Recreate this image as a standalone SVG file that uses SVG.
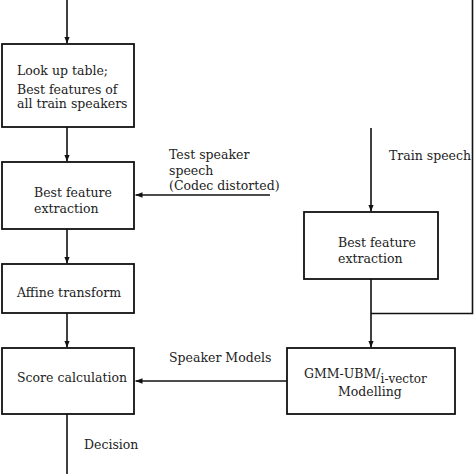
<svg xmlns="http://www.w3.org/2000/svg" width="474" height="474" viewBox="0 0 474 474">
<style>
.box{fill:#fff;stroke:#111;stroke-width:1.8}
.ln{fill:none;stroke:#111;stroke-width:1.6}
.t{font-family:'DejaVu Serif',serif;font-size:12.5px;fill:#222}
</style>
<defs>
<marker id="ah" viewBox="0 0 10 10" refX="10" refY="5" markerWidth="7" markerHeight="7" markerUnits="userSpaceOnUse" orient="auto">
<path d="M0,1 L10,5 L0,9 Z" fill="#111"/>
</marker>
</defs>
<rect width="474" height="474" fill="#fff"/>
<g id="connectors">
<line class="ln" x1="67" y1="0" x2="67" y2="43.5" marker-end="url(#ah)"/>
<line class="ln" x1="67" y1="127" x2="67" y2="161.5" marker-end="url(#ah)"/>
<line class="ln" x1="270" y1="195" x2="135.5" y2="195" marker-end="url(#ah)"/>
<line class="ln" x1="67" y1="229" x2="67" y2="263.5" marker-end="url(#ah)"/>
<line class="ln" x1="67" y1="313" x2="67" y2="347.5" marker-end="url(#ah)"/>
<line class="ln" x1="287" y1="381" x2="135.5" y2="381" marker-end="url(#ah)"/>
<line class="ln" x1="67" y1="414" x2="67" y2="474"/>
<line class="ln" x1="371" y1="128" x2="371" y2="211.5" marker-end="url(#ah)"/>
<line class="ln" x1="371" y1="279" x2="371" y2="347.5" marker-end="url(#ah)"/>
<polyline class="ln" points="472.5,0 472.5,313.5 371,313.5"/>
<text class="t" x="169" y="159">Test speaker</text>
<text class="t" x="169" y="175">speech</text>
<text class="t" x="169" y="190">(Codec distorted)</text>
<text class="t" x="389" y="160">Train speech</text>
<text class="t" x="169" y="362">Speaker Models</text>
<text class="t" x="84" y="449">Decision</text>
</g>
<g id="lookup">
<rect class="box" x="2" y="44" width="132" height="83"/>
<text class="t" x="17" y="75">Look up table;</text>
<text class="t" x="17" y="93.5">Best features of</text>
<text class="t" x="17" y="108">all train speakers</text>
</g>
<g id="bfe-test">
<rect class="box" x="2" y="162" width="132" height="67"/>
<text class="t" x="34" y="197">Best feature</text>
<text class="t" x="34" y="213">extraction</text>
</g>
<g id="affine">
<rect class="box" x="2" y="264" width="132" height="49"/>
<text class="t" x="17" y="297">Affine transform</text>
</g>
<g id="score">
<rect class="box" x="2" y="348" width="132" height="66"/>
<text class="t" x="17" y="382">Score calculation</text>
</g>
<g id="bfe-train">
<rect class="box" x="304" y="212" width="134" height="67"/>
<text class="t" x="338" y="247">Best feature</text>
<text class="t" x="338" y="263">extraction</text>
</g>
<g id="gmm">
<rect class="box" x="287" y="348" width="168" height="66"/>
<text class="t" x="304" y="378">GMM-UBM/<tspan font-size="12" dy="5">i-vector</tspan></text>
<text class="t" x="338" y="396">Modelling</text>
</g>
</svg>
